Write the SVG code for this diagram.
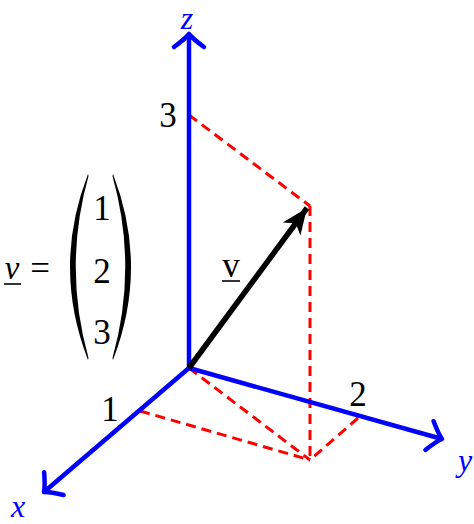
<svg xmlns="http://www.w3.org/2000/svg" width="474" height="524" viewBox="0 0 474 524">
<style>
.axis{stroke:#0000ff;stroke-width:4.5;fill:none;stroke-linecap:butt}
.dash{stroke:#ff0000;stroke-width:3;fill:none;stroke-dasharray:10,6}
.num{font-family:"Liberation Serif","DejaVu Serif",serif;font-size:35px;fill:#000}
.var{font-family:"Liberation Serif","DejaVu Serif",serif;font-style:italic;font-size:32px;fill:#0000ff}
.head{stroke:#0000ff;stroke-width:4.5;fill:none;stroke-linecap:round;stroke-linejoin:round}
</style>
<defs>
<marker id="to" markerUnits="userSpaceOnUse" markerWidth="40" markerHeight="40" viewBox="-20 -20 40 40" refX="0" refY="0" orient="auto" overflow="visible">
<path class="head" d="M -13,-15 Q -5,-4 0,0 Q -5,4 -13,15"/>
</marker>
<marker id="stealth" markerUnits="userSpaceOnUse" markerWidth="40" markerHeight="40" viewBox="-30 -20 40 40" refX="0" refY="0" orient="auto" overflow="visible">
<path d="M 0,0 L -26,-11 L -19,0 L -26,11 Z" fill="#000"/>
</marker>
</defs>
<g id="guides">
<line class="dash" x1="189" y1="115" x2="310" y2="206"/>
<line class="dash" x1="310" y1="206" x2="310" y2="460"/>
<line class="dash" x1="140" y1="411" x2="310" y2="460"/>
<line class="dash" x1="358" y1="418" x2="310" y2="460"/>
<line class="dash" x1="189" y1="368" x2="310" y2="460"/>
</g>
<g id="axes">
<line id="z-axis" class="axis" x1="189" y1="368" x2="189" y2="34" marker-end="url(#to)"/>
<line id="x-axis" class="axis" x1="189" y1="368" x2="44" y2="492" marker-end="url(#to)"/>
<line id="y-axis" class="axis" x1="189" y1="368" x2="442" y2="439" marker-end="url(#to)"/>
</g>
<g id="vector">
<line x1="189" y1="368" x2="307" y2="208" stroke="#000" stroke-width="5.5" marker-end="url(#stealth)"/>
<text class="num" x="231" y="277" text-anchor="middle" font-size="30px">v</text>
<line x1="222" y1="281" x2="240" y2="281" stroke="#000" stroke-width="1.6"/>
</g>
<g id="labels">
<text class="var" x="187" y="29" text-anchor="middle" font-size="26px">z</text>
<text class="var" x="18" y="517" text-anchor="middle">x</text>
<text class="var" x="465" y="471" text-anchor="middle">y</text>
<text class="num" x="168" y="127" text-anchor="middle">3</text>
<text class="num" x="110" y="421" text-anchor="middle">1</text>
<text class="num" x="358" y="406" text-anchor="middle">2</text>
</g>
<g id="equation">
<text x="12" y="279" text-anchor="middle" font-family="Liberation Serif, DejaVu Serif, serif" font-style="italic" font-size="33px">v</text>
<line x1="4" y1="284" x2="21" y2="284" stroke="#000" stroke-width="1.6"/>
<text class="num" x="40" y="280" text-anchor="middle">=</text>
<path d="M 88,174 Q 52,267 88,360 L 88.5,358 Q 63,267 88.5,176 Z" fill="#000"/>
<path d="M 113,174 Q 149,267 113,360 L 112.5,358 Q 138,267 112.5,176 Z" fill="#000"/>
<text class="num" x="102" y="220" text-anchor="middle">1</text>
<text class="num" x="102" y="283" text-anchor="middle">2</text>
<text class="num" x="102" y="344" text-anchor="middle">3</text>
</g>
</svg>
